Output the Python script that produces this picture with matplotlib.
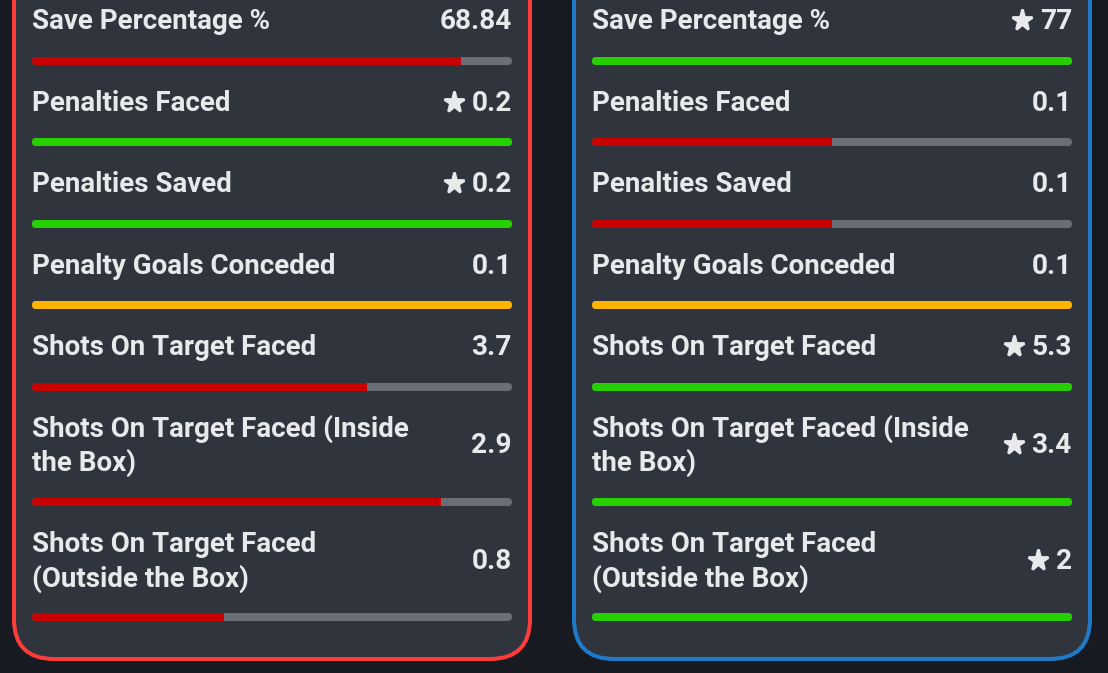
import matplotlib
matplotlib.use("Agg")
import matplotlib.pyplot as plt
from matplotlib.patches import FancyBboxPatch

# ---- data ----
metrics = ["Save Percentage %", "Penalties Faced", "Penalties Saved",
           "Penalty Goals Conceded", "Shots On Target Faced",
           "Shots On Target Faced (Inside\nthe Box)",
           "Shots On Target Faced\n(Outside the Box)"]
left_values = ["68.84", "0.2", "0.2", "0.1", "3.7", "2.9", "0.8"]
right_values = ["77", "0.1", "0.1", "0.1", "5.3", "3.4", "2"]
left_share = [89.4, 100, 100, 100, 69.8, 85.3, 40]
right_share = [100, 50, 50, 100, 100, 100, 100]
left_status = ["lose", "win", "win", "tie", "lose", "lose", "lose"]
right_status = ["win", "lose", "lose", "tie", "win", "win", "win"]

# ---- styling / layout ----
W, H = 1108, 673
BG, CARD, TEXT, TRACK = "#171b21", "#2f343d", "#e8e9eb", "#6b6e76"
STATUS = {"win": "#26cf00", "lose": "#c80000", "tie": "#ffb400"}
BAR_Y = [61, 142, 224, 305, 387, 502, 617]
BASELINES = [29, 111, 192, 273.5, 355, 437, 552.5]
VALUE_BASE = [29, 111, 192, 273.5, 355, 453, 569]
LINE_STEP = 34
FS = 20.0
FS_VALUE = 20.2

plt.rcParams["font.family"] = ["Roboto", "DejaVu Sans"]
fig = plt.figure(figsize=(W / 100, H / 100), dpi=100, facecolor=BG)
page = fig.add_axes([0, 0, 1, 1])
page.set_xlim(0, W)
page.set_ylim(H, 0)
page.axis("off")


def card(x0, edge, values, shares, status):
    page.add_patch(FancyBboxPatch((x0 + 2, -60), 516, 719,
                                  boxstyle="round,pad=0,rounding_size=40",
                                  fc=CARD, ec=edge, lw=2.9, zorder=1))
    bx0, bx1 = x0 + 20, x0 + 500
    # one axes per card: its x scale is the bar share, 0-100
    ax = fig.add_axes([bx0 / W, 0, (bx1 - bx0) / W, 1])
    ax.set_xlim(0, 100)
    ax.set_ylim(H, 0)
    ax.axis("off")
    ax.patch.set_alpha(0)
    sx = 100 / (bx1 - bx0)
    for i, name in enumerate(metrics):
        y = BAR_Y[i]
        track = FancyBboxPatch((0, y - 4), 100, 8,
                               boxstyle="round,pad=0,rounding_size=4",
                               fc=TRACK, ec="none",
                               mutation_aspect=1 / sx, zorder=2)
        track.set_boxstyle("round", pad=0, rounding_size=4 * sx)
        ax.add_patch(track)
        bars = ax.barh([y], [shares[i]], height=8,
                       color=STATUS[status[i]], zorder=3)
        bars[0].set_clip_path(track)
        for k, line in enumerate(name.split("\n")):
            page.text(bx0, BASELINES[i] + k * LINE_STEP, line, color=TEXT,
                      fontsize=FS, fontweight="bold", va="baseline",
                      ha="left", zorder=5)
        t = page.text(bx1, VALUE_BASE[i], values[i], color=TEXT, fontsize=FS_VALUE,
                      fontweight="bold", va="baseline", ha="right", zorder=5)
        if status[i] == "win":
            fig.canvas.draw()
            bb = t.get_window_extent()
            page.plot([bb.x0 - 18], [VALUE_BASE[i] - 9.5], marker="*", ms=15.5,
                      color=TEXT, mec=TEXT, mew=2, mfc=TEXT, zorder=5,
                      solid_joinstyle="round", clip_on=False)


card(12, "#ff3b3b", left_values, left_share, left_status)
card(572, "#1f7ac9", right_values, right_share, right_status)

fig.savefig("out.png", dpi=100, facecolor=BG)
